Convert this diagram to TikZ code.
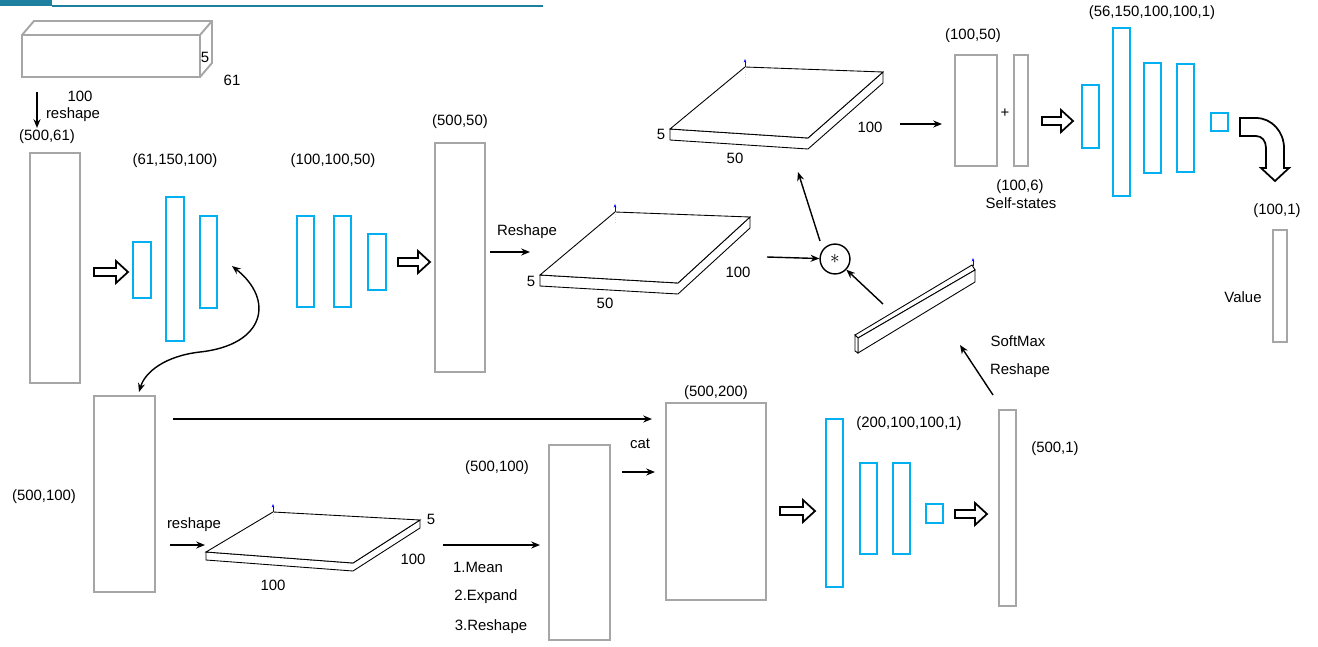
\documentclass[tikz,border=0pt]{standalone}
\usepackage{fontspec}
\setmainfont{Liberation Sans}
\usetikzlibrary{arrows.meta,calc}
\definecolor{boxgray}{HTML}{A6A6A6}
\definecolor{layerblue}{HTML}{00B0F0}
\definecolor{barteal}{HTML}{1F7F9F}
\tikzset{
  tensor/.style={draw=boxgray, line width=1.1pt},
  layer/.style={draw=layerblue, line width=1.1pt},
  flow/.style={-{Stealth[length=5pt,width=4pt]}, line width=0.8pt},
  lbl/.style={font=\fontsize{8.5}{10}\selectfont, inner sep=1pt},
  slab/.style={draw=black, line width=0.5pt, fill=white},
}
% hollow block arrow: x start, x end, y
\newcommand{\blockarrow}[3]{%
  \draw[line width=1pt] (#1,#3-4) -- (#2-12,#3-4) -- (#2-12,#3-11) -- (#2,#3) -- (#2-12,#3+11) -- (#2-12,#3+4) -- (#1,#3+4) -- cycle;}
% flat slab: back-left, back-right, front-right, front-left, thickness
\newcommand{\flatslab}[5]{%
  \draw[slab] #4 -- #3 -- #2 -- ++(0,#5) -- ($#3+(0,#5)$) -- ($#4+(0,#5)$) -- cycle;
  \draw[slab] #4 -- #1 -- #2 -- #3 -- cycle;
  \draw[black!15, densely dotted] #1 -- ++(0,#5);
  \draw[blue, line width=0.4pt, -{Stealth[length=2pt]}] #1 -- ++(0,-8);}
\begin{document}
\begin{tikzpicture}[x=0.02cm, y=-0.02cm]
  \useasboundingbox (0,0) rectangle (1318,646);
  % header bar
  \fill[barteal] (0,0) rectangle (52,6);
  \draw[barteal, line width=0.6pt] (52,6) -- (543,6);

  % input cube
  \draw[tensor] (22,35) rectangle (200,77);
  \draw[tensor] (22,35) -- (34,21) -- (212,21) -- (212,63) -- (200,77);
  \draw[tensor] (200,35) -- (212,21);
  \node[lbl] (c5) at (205,57) {5};
  \node[lbl] (c61) at (232,80) {61};
  \node[lbl] (c100) at (80,96) {100};
  \node[lbl] (rs1) at (73,115) {reshape};
  \coordinate (r1a) at (37,92);
  \coordinate (r1b) at (37,128);
  \draw[flow] (r1a) -- (r1b);

  % (500,61) and first block
  \node[lbl] (t1) at (47,137) {(500,61)};
  \draw[tensor] (30,153) rectangle (80,383);
  \blockarrow{94}{128}{272}
  \draw[layer] (133,242) rectangle (151,298);
  \draw[layer] (166,197) rectangle (184,341);
  \draw[layer] (200,216) rectangle (217,308);
  \node[lbl] (l1) at (175,161) {(61,150,100)};
  \draw[layer] (297,216) rectangle (314,307);
  \draw[layer] (334,216) rectangle (351,307);
  \draw[layer] (368,234) rectangle (386,290);
  \node[lbl] (l2) at (333,161) {(100,100,50)};
  \blockarrow{398}{430}{262}
  \node[lbl] (t2) at (460,122) {(500,50)};
  \draw[tensor] (435,143) rectangle (485,372);

  % reshape to slab 1
  \node[lbl] (rs2) at (527,232) {Reshape};
  \coordinate (r2a) at (490,252);
  \coordinate (r2b) at (530,252);
  \draw[flow] (r2a) -- (r2b);
  \flatslab{(615,212)}{(750,217)}{(678,283)}{(540,275)}{11}
  \node[lbl] (s1a) at (531,281) {5};
  \node[lbl] (s1b) at (605,303) {50};
  \node[lbl] (s1c) at (738,272) {100};
  \coordinate (r3a) at (767,257);
  \node[circle, draw, line width=0.8pt, minimum size=17pt, inner sep=0pt, font=\fontsize{11}{12}\selectfont] (mul) at (835,259) {$*$};
  \draw[flow] (r3a) -- (mul);

  % slab 2
  \flatslab{(745,67)}{(883,72)}{(808,138)}{(670,129)}{11}
  \node[lbl] (s2a) at (661,134) {5};
  \node[lbl] (s2b) at (735,158) {50};
  \node[lbl] (s2c) at (870,127) {100};
  \coordinate (m1) at (820,241);
  \coordinate (m2) at (798,172);
  \draw[flow] (m1) -- (m2);

  % attention bar
  \draw[slab] (855,335) -- (972,265) -- (975,270) -- (858,338) -- cycle;
  \draw[slab] (858,338) -- (975,270) -- (975,282) -- (858,353) -- cycle;
  \draw[slab] (855,335) -- (858,338) -- (858,353) -- (855,351) -- cycle;
  \draw[blue, line width=0.4pt, -{Stealth[length=2pt]}] (973,266) -- ++(0,-8);
  \coordinate (w1) at (883,304);
  \draw[flow] (w1) -- (mul);
  \node[lbl] (sm) at (1018,341) {SoftMax};
  \node[lbl] (rs3) at (1020,371) {Reshape};
  \coordinate (w2) at (993,395);
  \coordinate (w3) at (960,345);
  \draw[flow] (w2) -- (w3);

  % value head
  \coordinate (v1) at (900,124);
  \coordinate (v2) at (942,124);
  \draw[flow] (v1) -- (v2);
  \node[lbl] (t3) at (973,36) {(100,50)};
  \draw[tensor] (955,55) rectangle (997,166);
  \node[lbl] (plus) at (1005,113) {+};
  \draw[tensor] (1014,55) rectangle (1028,166);
  \node[lbl] (t4) at (1020,187) {(100,6)};
  \node[lbl] (ss) at (1021,203) {Self-states};
  \blockarrow{1042}{1073}{121}
  \draw[layer] (1082,85) rectangle (1099,148);
  \draw[layer] (1113,28) rectangle (1130,196);
  \draw[layer] (1144,63) rectangle (1161,173);
  \draw[layer] (1177,64) rectangle (1194,172);
  \draw[layer] (1211,113) rectangle (1228,131);
  \node[lbl] (l3) at (1152,13) {(56,150,100,100,1)};
  \draw[line width=1pt] (1240,118) -- (1256,118) .. controls (1272,118) and (1284,132) .. (1284,148) -- (1284,168)
    -- (1289,168) -- (1275,181) -- (1261,168) -- (1266,168) -- (1266,148)
    .. controls (1266,141) and (1262,136) .. (1256,136) -- (1240,136) -- cycle;
  \node[lbl] (t5) at (1277,211) {(100,1)};
  \draw[tensor] (1273,230) rectangle (1287,342);
  \node[lbl] (val) at (1243,297) {Value};

  % lower branch
  \coordinate (k1) at (232,266);
  \coordinate (k2) at (139,392);
  \draw[{Stealth[length=5pt,width=4pt]}-{Stealth[length=5pt,width=4pt]}, line width=0.8pt]
    (k1) .. controls (275,300) and (265,345) .. (200,352) .. controls (165,356) and (145,372) .. (k2);
  \draw[tensor] (94,396) rectangle (155,592);
  \node[lbl] (t6) at (44,497) {(500,100)};
  \coordinate (k3) at (173,419);
  \coordinate (k4) at (652,419);
  \draw[flow] (k3) -- (k4);
  \node[lbl] (rs4) at (194,525) {reshape};
  \coordinate (k5) at (170,545);
  \coordinate (k6) at (205,545);
  \draw[flow] (k5) -- (k6);
  \flatslab{(273,512)}{(420,520)}{(353,563)}{(206,552)}{8}
  \node[lbl] (s3a) at (431,519) {5};
  \node[lbl] (s3b) at (413,559) {100};
  \node[lbl] (s3c) at (273,585) {100};
  \coordinate (k7) at (443,545);
  \coordinate (k8) at (540,545);
  \draw[flow] (k7) -- (k8);
  \node[lbl] (op1) at (478,567) {1.Mean};
  \node[lbl] (op2) at (486,597) {2.Expand};
  \node[lbl] (op3) at (491,627) {3.Reshape};
  \node[lbl] (t7) at (497,468) {(500,100)};
  \draw[tensor] (549,445) rectangle (610,640);
  \node[lbl] (cat) at (640,444) {cat};
  \coordinate (k9) at (622,472);
  \coordinate (k10) at (655,472);
  \draw[flow] (k9) -- (k10);
  \node[lbl] (t8) at (716,393) {(500,200)};
  \draw[tensor] (666,403) rectangle (766,600);
  \blockarrow{780}{815}{511}
  \draw[layer] (826,419) rectangle (843,587);
  \draw[layer] (860,463) rectangle (877,554);
  \draw[layer] (893,463) rectangle (910,554);
  \draw[layer] (926,504) rectangle (943,523);
  \node[lbl] (l4) at (909,424) {(200,100,100,1)};
  \blockarrow{955}{987}{514}
  \draw[tensor] (999,410) rectangle (1016,606);
  \node[lbl] (t9) at (1055,449) {(500,1)};
\end{tikzpicture}
\end{document}
